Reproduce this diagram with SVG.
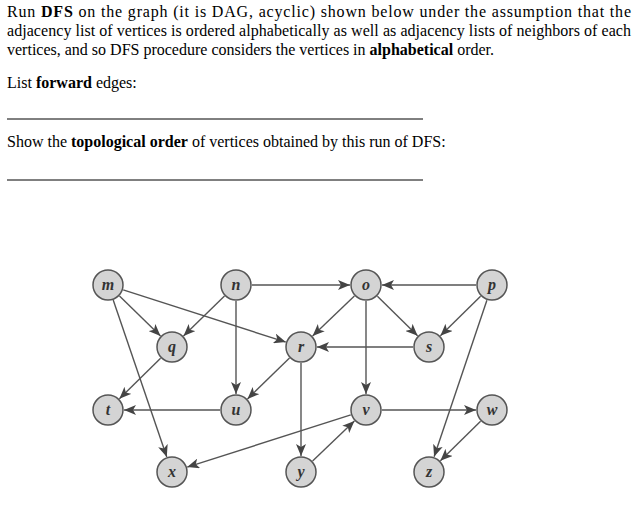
<svg xmlns="http://www.w3.org/2000/svg" width="642" height="522" viewBox="0 0 642 522">
<style>
.t{font-family:"Liberation Serif","Times New Roman","DejaVu Serif",serif;font-size:16px;fill:#000}
.b{font-weight:bold}
.n circle{fill:#d4d4d4;stroke:#555;stroke-width:1.5}
.n text{font-family:"Liberation Serif","Times New Roman","DejaVu Serif",serif;font-style:italic;font-weight:bold;font-size:16px;text-anchor:middle;fill:#333}
.e line{stroke:#555;stroke-width:1.4;marker-end:url(#a)}
</style>
<defs><marker id="a" viewBox="0 0 12 10" refX="12" refY="5" markerWidth="12" markerHeight="10" markerUnits="userSpaceOnUse" orient="auto"><path d="M0,0 L12,5 L0,10 L3,5 Z" fill="#444"/></marker></defs>
<rect width="642" height="522" fill="#fff"/>
<text class="t" x="7" y="17" textLength="624" lengthAdjust="spacing">Run <tspan class="b">DFS</tspan> on the graph (it is DAG, acyclic) shown below under the assumption that the</text>
<text class="t" x="7" y="36" textLength="624" lengthAdjust="spacing">adjacency list of vertices is ordered alphabetically as well as adjacency lists of neighbors of each</text>
<text class="t" x="7" y="55">vertices, and so DFS procedure considers the vertices in <tspan class="b">alphabetical</tspan> order.</text>
<text class="t" x="7" y="88">List <tspan class="b">forward</tspan> edges:</text>
<line x1="7" y1="119" x2="423" y2="119" stroke="#000" stroke-width="1"/>
<text class="t" x="7" y="147">Show the <tspan class="b">topological order</tspan> of vertices obtained by this run of DFS:</text>
<line x1="7" y1="180" x2="423" y2="180" stroke="#000" stroke-width="1"/>
<g id="edges" class="e">
<line x1="252" y1="285" x2="350" y2="285"/>
<line x1="476" y1="285" x2="382" y2="285"/>
<line x1="119.5" y1="296.1" x2="160.5" y2="335.9"/>
<line x1="224.5" y1="296.1" x2="183.5" y2="335.9"/>
<line x1="123.2" y1="289.9" x2="285.8" y2="342.1"/>
<line x1="354.4" y1="296" x2="312.6" y2="336"/>
<line x1="377.4" y1="296.2" x2="417.6" y2="335.8"/>
<line x1="480.6" y1="296.2" x2="440.4" y2="335.8"/>
<line x1="413" y1="347" x2="317" y2="347"/>
<line x1="236" y1="301" x2="236" y2="394"/>
<line x1="366" y1="301" x2="366" y2="394"/>
<line x1="289.5" y1="358.1" x2="247.5" y2="398.9"/>
<line x1="301" y1="363" x2="301" y2="456"/>
<line x1="160.6" y1="358.2" x2="119.4" y2="398.8"/>
<line x1="220" y1="410" x2="124" y2="410"/>
<line x1="113.2" y1="300.1" x2="166.8" y2="456.9"/>
<line x1="382" y1="410" x2="476" y2="410"/>
<line x1="350.8" y1="414.9" x2="187.2" y2="467.1"/>
<line x1="312.6" y1="461" x2="354.4" y2="421"/>
<line x1="486.9" y1="300.2" x2="434.1" y2="456.8"/>
<line x1="480.6" y1="421.2" x2="440.4" y2="460.8"/>
</g>
<g id="m" class="n"><circle cx="108" cy="285" r="15"/><text x="108" y="290">m</text></g>
<g id="n" class="n"><circle cx="236" cy="285" r="15"/><text x="236" y="290">n</text></g>
<g id="o" class="n"><circle cx="366" cy="285" r="15"/><text x="366" y="290">o</text></g>
<g id="p" class="n"><circle cx="492" cy="285" r="15"/><text x="492" y="290">p</text></g>
<g id="q" class="n"><circle cx="172" cy="347" r="15"/><text x="172" y="352">q</text></g>
<g id="r" class="n"><circle cx="301" cy="347" r="15"/><text x="301" y="352">r</text></g>
<g id="s" class="n"><circle cx="429" cy="347" r="15"/><text x="429" y="352">s</text></g>
<g id="t" class="n"><circle cx="108" cy="410" r="15"/><text x="108" y="415">t</text></g>
<g id="u" class="n"><circle cx="236" cy="410" r="15"/><text x="236" y="415">u</text></g>
<g id="v" class="n"><circle cx="366" cy="410" r="15"/><text x="366" y="415">v</text></g>
<g id="w" class="n"><circle cx="492" cy="410" r="15"/><text x="492" y="415">w</text></g>
<g id="x" class="n"><circle cx="172" cy="472" r="15"/><text x="172" y="477">x</text></g>
<g id="y" class="n"><circle cx="301" cy="472" r="15"/><text x="301" y="477">y</text></g>
<g id="z" class="n"><circle cx="429" cy="472" r="15"/><text x="429" y="477">z</text></g>
</svg>
